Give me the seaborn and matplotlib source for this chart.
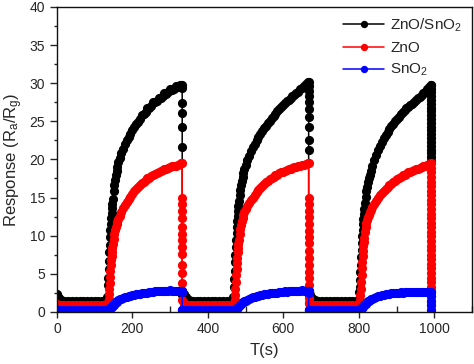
import pandas as pd
import seaborn as sns
import matplotlib.pyplot as plt
from matplotlib.ticker import MultipleLocator

# sampling times (s) of the three response cycles
t_cycle1 = [0, 3, 6, 10, 15, 20, 30, 40, 50, 60, 70, 80, 90, 100, 110, 120, 128,
            131, 133, 135,
            136, 137, 138, 139, 140, 141, 142, 143, 144, 145, 146, 147, 148,
            150, 152, 154, 156, 158, 160,
            163, 166,
            170, 175, 180, 185, 190, 195, 200, 205, 210, 215, 220, 225, 230, 235, 240,
            245, 250, 255, 260, 265, 270, 275, 280, 285, 290, 295, 300, 305, 310, 315,
            320, 325, 330]
t_cycle2 = [336, 338, 341, 345, 350, 355, 360, 370, 380, 390, 400, 410, 420, 430, 440, 450, 460,
            465, 467, 469,
            470, 471, 472, 473, 474, 475, 476, 477, 478, 479, 480, 481, 482,
            484, 486, 488, 490, 492, 494,
            497, 500,
            504, 509, 514, 519, 524, 529, 534, 539, 544, 549, 554, 559, 564, 569, 574,
            579, 584, 589, 594, 599, 604, 609, 614, 619, 624, 629, 634, 639, 644, 649,
            654, 659, 664]
t_cycle3 = [669, 671, 674, 678, 683, 688, 693, 703, 713, 723, 733, 743, 753, 763, 773, 783, 793,
            797, 799, 801,
            802, 803, 804, 805, 806, 807, 808, 809, 810, 811, 812, 813, 814,
            816, 818, 820, 822, 824, 826,
            829, 832,
            836, 841, 846, 851, 856, 861, 866, 871, 876, 881, 886, 891, 896, 901, 906,
            911, 916, 921, 926, 931, 936, 941, 946, 951, 956, 961, 966, 971, 976, 981,
            986, 990]
# gas switched off -> fast recovery, many readings at the same time
t_off = [332, 667, 991]

# ZnO/SnO2
zs_cycle1 = [2.4, 2.0, 1.8, 1.6, 1.5, 1.45, 1.4, 1.4, 1.4, 1.4, 1.4, 1.4, 1.4, 1.4, 1.4, 1.4, 1.4,
             1.4, 2.0, 3.5,
             4.5, 5.6, 6.7, 7.8, 8.8, 9.8, 10.7, 11.5, 12.3, 13.0, 13.6, 14.2, 14.8,
             15.8, 16.6, 17.3, 17.9, 18.5, 19.0,
             19.6, 20.2,
             20.8, 21.4, 22.0, 22.5, 23.0, 23.4, 23.8, 24.2, 24.6, 24.9, 25.3, 25.8, 25.9,
             26.2, 26.7, 26.8, 27.0, 27.5, 27.5, 27.7, 28.1, 28.1, 28.3, 28.7, 28.6, 28.8,
             29.2, 29.1, 29.3, 29.6, 29.5, 29.7, 29.8]
zs_off1 = [29.7, 29.4, 27.4, 26.1, 24.3, 21.6, 2.6, 2.5, 2.5, 2.5, 2.4, 2.4, 2.4, 2.3, 2.3]
zs_cycle2 = [2.3, 2.1, 1.9, 1.7, 1.6, 1.5, 1.45, 1.4, 1.4, 1.4, 1.4, 1.4, 1.4, 1.4, 1.4, 1.4, 1.4,
             1.4, 1.9, 3.3,
             4.3, 5.4, 6.5, 7.5, 8.5, 9.4, 10.3, 11.1, 11.9, 12.6, 13.3, 13.9, 14.5,
             15.3, 16.0, 16.6, 17.2, 17.7, 18.2,
             18.8, 19.3,
             19.9, 20.5, 21.1, 21.6, 22.0, 22.5, 22.9, 23.3, 23.7, 24.1, 24.4, 24.8, 25.1,
             25.4, 25.7, 26.0, 26.3, 26.6, 26.9, 27.1, 27.4, 27.6, 27.8, 28.1, 28.3, 28.5,
             28.7, 28.9, 29.2, 29.4, 29.6, 29.9, 30.1]
zs_off2 = [30.1, 29.6, 29.0, 28.3, 27.5, 26.6, 25.6, 24.2, 22.6, 21.2,
           2.6, 2.6, 2.5, 2.5, 2.5, 2.4, 2.4, 2.4]
zs_cycle3 = [2.5, 2.2, 1.9, 1.7, 1.6, 1.5, 1.45, 1.4, 1.4, 1.4, 1.4, 1.4, 1.4, 1.4, 1.4, 1.4, 1.4,
             1.4, 1.6, 2.6,
             3.3, 4.2, 5.2, 6.2, 7.2, 8.1, 9.0, 9.9, 10.7, 11.5, 12.2, 12.9, 13.5,
             14.3, 15.1, 15.8, 16.4, 17.0, 17.5,
             18.0, 18.5,
             19.2, 19.9, 20.6, 21.2, 21.8, 22.3, 22.8, 23.2, 23.6, 24.0, 24.4, 24.7, 25.0,
             25.3, 25.6, 25.9, 26.2, 26.5, 26.7, 26.9, 27.1, 27.3, 27.5, 27.8, 28.0, 28.2,
             28.4, 28.7, 28.9, 29.2, 29.5,
             29.8]
zs_off3 = [29.8, 29.3, 28.8, 28.3, 27.8, 27.3, 26.8, 26.3, 25.8, 25.3, 24.8, 24.3, 23.8,
           23.3, 22.8, 22.3, 21.8, 21.3, 20.8, 20.3, 19.8]

# ZnO
zno_cycle1 = [1.0, 0.9, 0.9, 0.9, 0.9, 0.9, 0.9, 0.9, 0.9, 0.9, 0.9, 0.9, 0.9, 0.9, 0.9, 0.9, 0.9,
              0.9, 0.9, 1.0,
              1.3, 1.7, 2.3, 3.0, 3.8, 4.6, 5.4, 6.1, 6.8, 7.4, 7.9, 8.4, 8.9,
              9.6, 10.2, 10.7, 11.1, 11.5, 11.8,
              12.2, 12.6,
              13.1, 13.6, 14.0, 14.4, 14.8, 15.1, 15.5, 15.8, 16.1, 16.4, 16.6, 16.9, 17.1,
              17.3, 17.5, 17.6, 17.8, 17.9, 18.1, 18.2, 18.3, 18.5, 18.6, 18.7, 18.8, 18.9,
              19.0, 19.1, 19.1, 19.2, 19.3, 19.4, 19.5]
zno_off1 = [19.5, 15.0, 14.1, 13.2, 12.3, 11.2, 10.2, 9.5, 8.5, 7.6, 6.2, 5.1, 3.8, 2.8, 1.6]
zno_cycle2 = [1.2, 1.0, 0.9, 0.9, 0.9, 0.9, 0.9, 0.9, 0.9, 0.9, 0.9, 0.9, 0.9, 0.9, 0.9, 0.9, 0.9,
              0.9, 0.9, 1.0,
              1.2, 1.6, 2.2, 3.0, 3.9, 4.8, 5.6, 6.4, 7.1, 7.8, 8.4, 8.9, 9.4,
              10.2, 10.9, 11.4, 11.9, 12.3, 12.7,
              13.1, 13.5,
              13.9, 14.3, 14.7, 15.0, 15.4, 15.7, 16.0, 16.3, 16.5, 16.8, 17.0, 17.2, 17.4,
              17.6, 17.7, 17.9, 18.0, 18.2, 18.3, 18.4, 18.5, 18.6, 18.7, 18.8, 18.9, 19.0,
              19.0, 19.1, 19.2, 19.3, 19.3, 19.4, 19.5]
zno_off2 = [19.5, 15.0, 14.2, 13.3, 12.4, 11.5, 10.6, 9.8, 9.0, 8.0, 7.1, 6.2, 5.3, 4.4,
            3.5, 2.6, 1.8, 1.2]
zno_cycle3 = [1.2, 1.0, 0.9, 0.9, 0.9, 0.9, 0.9, 0.9, 0.9, 0.9, 0.9, 0.9, 0.9, 0.9, 0.9, 0.9, 0.9,
              0.9, 0.9, 1.0,
              1.2, 1.6, 2.2, 3.0, 3.9, 4.8, 5.7, 6.5, 7.3, 8.0, 8.6, 9.2, 9.7,
              10.5, 11.1, 11.6, 12.0, 12.4, 12.7,
              13.1, 13.4,
              13.8, 14.2, 14.6, 15.0, 15.3, 15.6, 15.9, 16.1, 16.4, 16.6, 16.8, 17.0, 17.2,
              17.4, 17.6, 17.7, 17.9, 18.0, 18.1, 18.3, 18.4, 18.5, 18.6, 18.7, 18.8, 18.9,
              19.0, 19.1, 19.2, 19.3, 19.4,
              19.5]
zno_off3 = [19.5, 18.9, 18.3, 17.7, 17.1, 16.5, 15.9, 15.3, 14.7, 14.1, 13.5, 12.9, 12.3,
            11.7, 11.1, 10.5, 9.9, 9.3, 8.7, 8.1, 7.5, 6.9, 6.3, 5.7, 5.1, 4.5, 3.9, 3.3,
            2.7, 2.1, 1.5, 0.9, 0.3]

# SnO2
sno_cycle1 = [0.3, 0.3, 0.3, 0.3, 0.3, 0.3, 0.3, 0.3, 0.3, 0.3, 0.3, 0.3, 0.3, 0.3, 0.3, 0.3, 0.3,
              0.3, 0.3, 0.3,
              0.3, 0.3, 0.35, 0.4, 0.45, 0.5, 0.55, 0.6, 0.65, 0.7, 0.75, 0.8, 0.85,
              0.95, 1.05, 1.15, 1.25, 1.35, 1.45,
              1.55, 1.65,
              1.75, 1.85, 1.95, 2.0, 2.1, 2.15, 2.2, 2.25, 2.35, 2.35, 2.4, 2.45, 2.5, 2.5,
              2.55, 2.6, 2.6, 2.65, 2.7, 2.7, 2.7, 2.75, 2.75, 2.8, 2.8, 2.8, 2.85, 2.8,
              2.8, 2.8, 2.75, 2.75, 2.75]
sno_off1 = [2.75, 2.7, 2.7, 2.6, 0.3, 0.3, 0.3, 0.3]
sno_cycle2 = [0.3, 0.3, 0.3, 0.3, 0.3, 0.3, 0.3, 0.3, 0.3, 0.3, 0.3, 0.3, 0.3, 0.3, 0.3, 0.3, 0.3,
              0.3, 0.3, 0.3,
              0.3, 0.3, 0.3, 0.3, 0.35, 0.4, 0.45, 0.5, 0.55, 0.6, 0.65, 0.7, 0.75,
              0.85, 0.95, 1.05, 1.15, 1.25, 1.3,
              1.4, 1.5,
              1.6, 1.7, 1.8, 1.95, 2.0, 2.1, 2.15, 2.2, 2.25, 2.3, 2.4, 2.35, 2.45, 2.5, 2.5,
              2.55, 2.55, 2.6, 2.6, 2.65, 2.8, 2.65, 2.7, 2.7, 2.75, 2.8, 2.75, 2.8, 2.8,
              2.85, 2.8, 2.8, 2.8]
sno_off2 = [2.8, 2.8, 2.7, 2.5, 0.3, 0.3, 0.3, 0.3]
sno_cycle3 = [0.3, 0.3, 0.3, 0.3, 0.3, 0.3, 0.3, 0.3, 0.3, 0.3, 0.3, 0.3, 0.3, 0.3, 0.3, 0.3, 0.3,
              0.3, 0.3, 0.3,
              0.3, 0.3, 0.35, 0.4, 0.45, 0.5, 0.55, 0.6, 0.7, 0.75, 0.8, 0.85, 0.9,
              1.0, 1.1, 1.2, 1.3, 1.4, 1.45,
              1.55, 1.65,
              1.75, 1.85, 1.95, 2.05, 2.1, 2.2, 2.25, 2.3, 2.35, 2.4, 2.5, 2.45, 2.5, 2.55,
              2.55, 2.6, 2.55, 2.6, 2.6, 2.65, 2.6, 2.65, 2.65, 2.6, 2.65, 2.65, 2.65, 2.65,
              2.65, 2.65, 2.65,
              2.65]
sno_off3 = [2.65, 2.1, 1.5, 0.9, 0.3]

labels = ['ZnO/SnO$_2$', 'ZnO', 'SnO$_2$']
colors = ['#000000', '#ff0000', '#0000ff']

cycle_times = [t_cycle1, t_cycle2, t_cycle3]
series = [
    ([zs_cycle1, zs_cycle2, zs_cycle3], [zs_off1, zs_off2, zs_off3]),
    ([zno_cycle1, zno_cycle2, zno_cycle3], [zno_off1, zno_off2, zno_off3]),
    ([sno_cycle1, sno_cycle2, sno_cycle3], [sno_off1, sno_off2, sno_off3]),
]

frames = []
for name, (cyc, off) in zip(labels, series):
    t, v = [], []
    for tc, vc, toff, vo in zip(cycle_times, cyc, t_off, off):
        t += tc + [toff] * len(vo)
        v += vc + vo
    frames.append(pd.DataFrame({'T': t, 'R': v, 'sample': name}))
df = pd.concat(frames, ignore_index=True)

sns.set_style('ticks')
plt.rcParams['font.family'] = ['Liberation Sans', 'DejaVu Sans']
plt.rcParams['mathtext.default'] = 'regular'

fig, ax = plt.subplots(figsize=(4.74, 3.64), dpi=100)
fig.subplots_adjust(left=0.12, right=0.996, bottom=0.143, top=0.981)

for name, c in zip(labels, colors):
    sns.lineplot(data=df[df['sample'] == name], x='T', y='R', ax=ax, color=c,
                 estimator=None, sort=False, marker='o', markersize=6.6,
                 markeredgewidth=0, linewidth=1.1, label=name)

ax.set_xlim(0, 1100)
ax.set_ylim(0, 40)
ax.xaxis.set_major_locator(MultipleLocator(200))
ax.xaxis.set_minor_locator(MultipleLocator(100))
ax.yaxis.set_major_locator(MultipleLocator(5))
ax.yaxis.set_minor_locator(MultipleLocator(2.5))
ax.tick_params(axis='x', which='major', direction='out', length=4, width=1, labelsize=10)
ax.tick_params(axis='x', which='minor', direction='in', length=4, width=1)
ax.tick_params(axis='y', which='major', direction='out', length=5, width=1, labelsize=10)
ax.tick_params(axis='y', which='minor', direction='out', length=2.5, width=1)
for s in ax.spines.values():
    s.set_linewidth(1.0)
    s.set_color('#111111')

ax.set_xlabel('T(s)', fontsize=12, labelpad=5)
ax.set_ylabel('Response (R$_a$/R$_g$)', fontsize=12, labelpad=3)

ax.legend(loc='upper right', frameon=False, fontsize=11, handlelength=2.7,
          handletextpad=0.4, labelspacing=0.45, borderaxespad=0.35, borderpad=0.3,
          markerscale=0.8)

fig.savefig('out.png', dpi=100)
